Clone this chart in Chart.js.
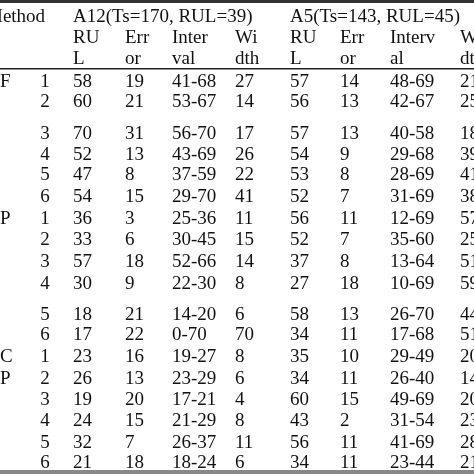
<!DOCTYPE html>
<html>
<head>
<meta charset="utf-8">
<script src="https://cdn.jsdelivr.net/npm/chart.js@4"></script>
<style>
html, body { margin: 0; padding: 0; background: #fff; }
#wrap { width: 474px; height: 474px; }
</style>
</head>
<body>
<div id="wrap"><canvas id="tabela"></canvas></div>
<script>
const grupos = ['F', '', '', '', '', '', 'P', '', '', '', '', '', 'C', 'P', '', '', '', ''];
const indices = ['1', '2', '3', '4', '5', '6', '1', '2', '3', '4', '5', '6', '1', '2', '3', '4', '5', '6'];
const a12Rul = ['58', '60', '70', '52', '47', '54', '36', '33', '57', '30', '18', '17', '23', '26', '19', '24', '32', '21'];
const a12Erro = ['19', '21', '31', '13', '8', '15', '3', '6', '18', '9', '21', '22', '16', '13', '20', '15', '7', '18'];
const a12Intervalo = ['41-68', '53-67', '56-70', '43-69', '37-59', '29-70', '25-36', '30-45', '52-66', '22-30', '14-20', '0-70', '19-27', '23-29', '17-21', '21-29', '26-37', '18-24'];
const a12Largura = ['27', '14', '17', '26', '22', '41', '11', '15', '14', '8', '6', '70', '8', '6', '4', '8', '11', '6'];
const a5Rul = ['57', '56', '57', '54', '53', '52', '56', '52', '37', '27', '58', '34', '35', '34', '60', '43', '56', '34'];
const a5Erro = ['14', '13', '13', '9', '8', '7', '11', '7', '8', '18', '13', '11', '10', '11', '15', '2', '11', '11'];
const a5Intervalo = ['48-69', '42-67', '40-58', '29-68', '28-69', '31-69', '12-69', '35-60', '13-64', '10-69', '26-70', '17-68', '29-49', '26-40', '49-69', '31-54', '41-69', '23-44'];
const a5Largura = ['21', '25', '18', '39', '41', '38', '57', '25', '51', '59', '44', '51', '20', '14', '20', '23', '28', '21'];
const linhasY = [80, 100, 132, 153, 173, 195, 217, 238, 260, 282, 313, 333, 355, 377, 398, 419, 441, 461];

const colunas = [
	{ x: 0, dados: grupos, alinhar: 'left' },
	{ x: 45, dados: indices, alinhar: 'center' },
	{ x: 73, dados: a12Rul },
	{ x: 125, dados: a12Erro },
	{ x: 172, dados: a12Intervalo },
	{ x: 235, dados: a12Largura },
	{ x: 290, dados: a5Rul },
	{ x: 340, dados: a5Erro },
	{ x: 390, dados: a5Intervalo },
	{ x: 460, dados: a5Largura }
];

const cabecalho = [
	{ x: -14, y: 15, t: 'Method' },
	{ x: 73, y: 15, t: 'A12(Ts=170, RUL=39)' },
	{ x: 290, y: 15, t: 'A5(Ts=143, RUL=45)' },
	{ x: 73, y: 36, t: 'RU' }, { x: 125, y: 36, t: 'Err' }, { x: 172, y: 36, t: 'Inter' }, { x: 235, y: 36, t: 'Wi' },
	{ x: 290, y: 36, t: 'RU' }, { x: 340, y: 36, t: 'Err' }, { x: 390, y: 36, t: 'Interv' }, { x: 460, y: 36, t: 'Wi' },
	{ x: 73, y: 57, t: 'L' }, { x: 125, y: 57, t: 'or' }, { x: 172, y: 57, t: 'val' }, { x: 235, y: 57, t: 'dth' },
	{ x: 290, y: 57, t: 'L' }, { x: 340, y: 57, t: 'or' }, { x: 390, y: 57, t: 'al' }, { x: 460, y: 57, t: 'dth' }
];

// desloca do centro visual para a linha de base
const BASE = 6.5;

const desenharTabela = {
	id: 'desenharTabela',
	afterDraw(chart) {
		const ctx = chart.ctx;
		const sx = chart.scales.x;
		const sy = chart.scales.y;
		ctx.save();
		ctx.fillStyle = '#111';
		ctx.font = '19px "Liberation Serif", "DejaVu Serif", serif';
		ctx.textBaseline = 'alphabetic';

		cabecalho.forEach(c => {
			ctx.textAlign = 'left';
			ctx.fillText(c.t, sx.getPixelForValue(c.x), sy.getPixelForValue(c.y + BASE));
		});

		colunas.forEach(col => {
			ctx.textAlign = col.alinhar || 'left';
			col.dados.forEach((v, i) => {
				ctx.fillText(v, sx.getPixelForValue(col.x), sy.getPixelForValue(linhasY[i] + BASE));
			});
		});

		// linhas da tabela
		ctx.fillStyle = '#333';
		ctx.fillRect(0, sy.getPixelForValue(0), chart.width, 3);
		ctx.fillStyle = '#222';
		ctx.fillRect(0, sy.getPixelForValue(68), chart.width, 1.5);
		ctx.fillStyle = '#888';
		ctx.fillRect(0, sy.getPixelForValue(470), chart.width, 4);
		ctx.restore();
	}
};

new Chart(document.getElementById('tabela').getContext('2d'), {
	type: 'scatter',
	data: { datasets: [{ data: [] }] },
	options: {
		responsive: true,
		maintainAspectRatio: false,
		animation: false,
		layout: { padding: 0 },
		scales: {
			x: { type: 'linear', min: 0, max: 474, display: false },
			y: { type: 'linear', min: 0, max: 474, reverse: true, display: false }
		},
		plugins: { legend: { display: false }, tooltip: { enabled: false } }
	},
	plugins: [desenharTabela]
});
</script>
</body>
</html>
